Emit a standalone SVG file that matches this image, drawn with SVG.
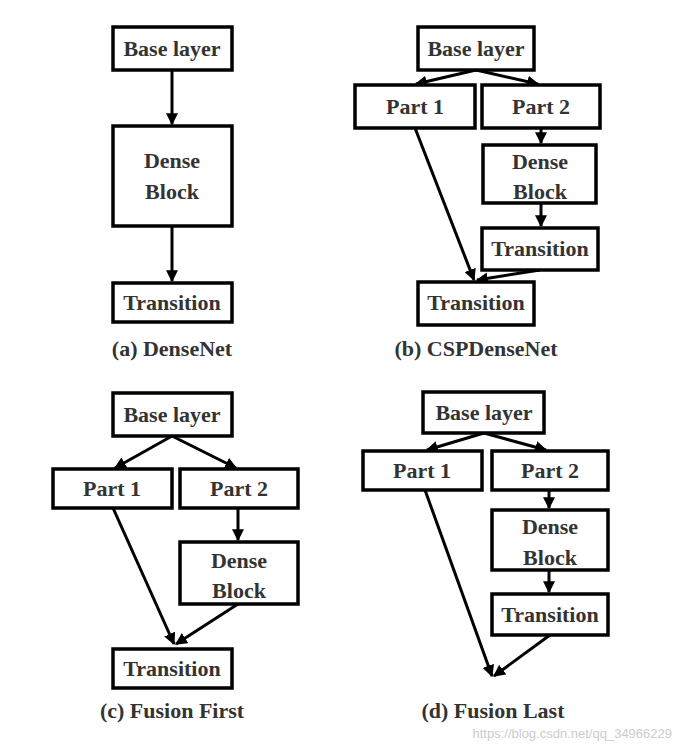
<svg xmlns="http://www.w3.org/2000/svg" width="681" height="750" viewBox="0 0 681 750">
<style>
.b{fill:#fff;stroke:#000;stroke-width:3.5}
.t{font-family:"Liberation Serif",serif;font-weight:bold;font-size:22px;fill:#333;text-anchor:middle}
.c{stroke:#000;stroke-width:3;fill:none;marker-end:url(#a)}
</style>
<defs><marker id="a" viewBox="0 0 10 10" refX="9" refY="5" markerWidth="4" markerHeight="4" orient="auto" markerUnits="strokeWidth"><path d="M0,0L10,5L0,10z" fill="#000"/></marker></defs>
<rect width="681" height="750" fill="#fff"/>
<g id="connectors">
<path class="c" d="M172,70V124"/><path class="c" d="M172,226V281"/>
<path class="c" d="M476,70L416,84"/><path class="c" d="M476,70L538,84"/>
<path class="c" d="M415,128L474,280"/><path class="c" d="M541,128V143"/><path class="c" d="M541,203V226"/><path class="c" d="M540,270L477,280"/>
<path class="c" d="M172,436L115,468"/><path class="c" d="M172,436L236,468"/>
<path class="c" d="M113,508L174,644"/><path class="c" d="M238,508V540"/><path class="c" d="M238,604L176,644"/>
<path class="c" d="M484,433L427,450"/><path class="c" d="M484,433L546,450"/>
<path class="c" d="M425,490L492,676"/><path class="c" d="M549,490V508"/><path class="c" d="M549,570V592"/><path class="c" d="M550,635L494,676"/>
</g>
<g id="a_base"><rect class="b" x="113" y="27" width="119" height="43"/><text class="t" x="172" y="56">Base layer</text></g>
<g id="a_dense"><rect class="b" x="113" y="126" width="119" height="100"/><text class="t" x="172" y="168">Dense</text><text class="t" x="172" y="199">Block</text></g>
<g id="a_trans"><rect class="b" x="113" y="283" width="119" height="39"/><text class="t" x="172" y="310">Transition</text></g>
<text class="t" x="172" y="356">(a) DenseNet</text>
<g id="b_base"><rect class="b" x="418" y="27" width="116" height="43"/><text class="t" x="476" y="56">Base layer</text></g>
<g id="b_p1"><rect class="b" x="355" y="85" width="120" height="43"/><text class="t" x="415" y="114">Part 1</text></g>
<g id="b_p2"><rect class="b" x="482" y="85" width="118" height="43"/><text class="t" x="541" y="114">Part 2</text></g>
<g id="b_dense"><rect class="b" x="483" y="145" width="113" height="58"/><text class="t" x="540" y="169">Dense</text><text class="t" x="540" y="199">Block</text></g>
<g id="b_trans1"><rect class="b" x="482" y="228" width="116" height="42"/><text class="t" x="540" y="256">Transition</text></g>
<g id="b_trans2"><rect class="b" x="418" y="282" width="116" height="43"/><text class="t" x="476" y="310">Transition</text></g>
<text class="t" x="476" y="356">(b) CSPDenseNet</text>
<g id="c_base"><rect class="b" x="113" y="393" width="119" height="43"/><text class="t" x="172" y="422">Base layer</text></g>
<g id="c_p1"><rect class="b" x="53" y="469" width="119" height="39"/><text class="t" x="112" y="496">Part 1</text></g>
<g id="c_p2"><rect class="b" x="180" y="469" width="118" height="39"/><text class="t" x="239" y="496">Part 2</text></g>
<g id="c_dense"><rect class="b" x="180" y="542" width="118" height="62"/><text class="t" x="239" y="568">Dense</text><text class="t" x="239" y="598">Block</text></g>
<g id="c_trans"><rect class="b" x="113" y="649" width="119" height="39"/><text class="t" x="172" y="676">Transition</text></g>
<text class="t" x="172" y="718">(c) Fusion First</text>
<g id="d_base"><rect class="b" x="423" y="392" width="121" height="41"/><text class="t" x="484" y="420">Base layer</text></g>
<g id="d_p1"><rect class="b" x="363" y="451" width="119" height="39"/><text class="t" x="422" y="478">Part 1</text></g>
<g id="d_p2"><rect class="b" x="492" y="451" width="116" height="39"/><text class="t" x="550" y="478">Part 2</text></g>
<g id="d_dense"><rect class="b" x="492" y="510" width="116" height="60"/><text class="t" x="550" y="534">Dense</text><text class="t" x="550" y="565">Block</text></g>
<g id="d_trans"><rect class="b" x="492" y="594" width="116" height="41"/><text class="t" x="550" y="622">Transition</text></g>
<text class="t" x="493" y="718">(d) Fusion Last</text>
<text x="672" y="738" font-family="Liberation Sans,sans-serif" font-size="13" fill="#ccc" text-anchor="end">https://blog.csdn.net/qq_34966229</text>
</svg>
